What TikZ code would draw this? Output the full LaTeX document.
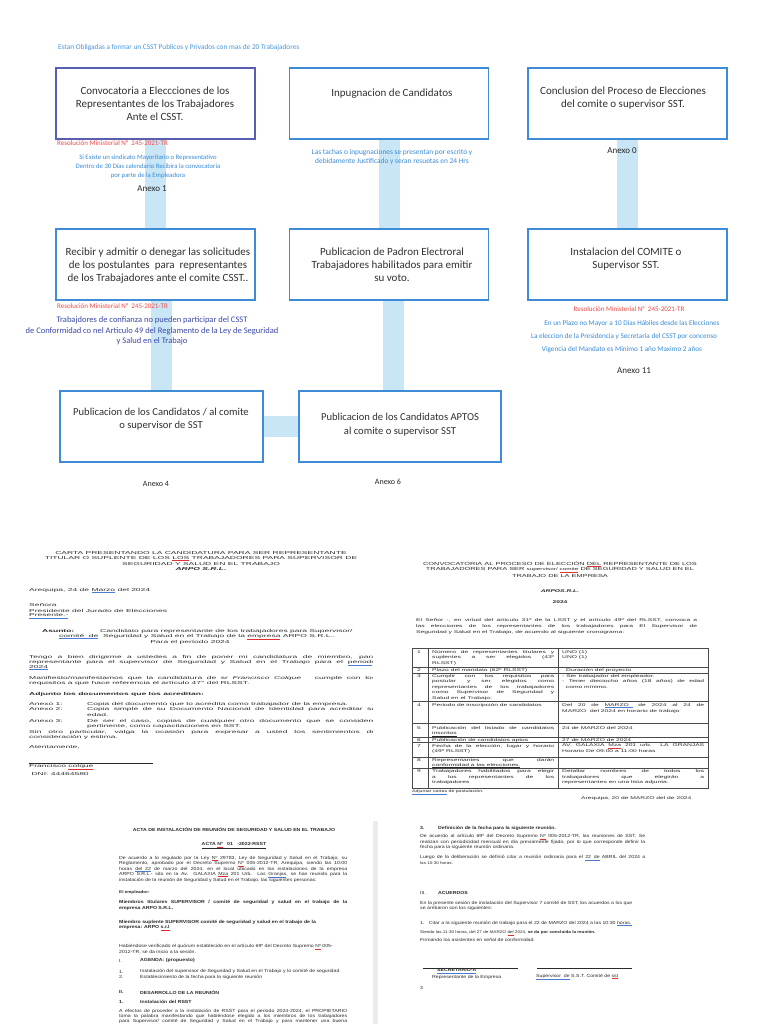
\documentclass[tikz,border=0pt]{standalone}
\usepackage{fontspec}
\usepackage{graphicx}
\setmainfont{Carlito}
\newfontfamily\docfont{Liberation Sans}
\definecolor{bandblue}{HTML}{C8E6F6}
\definecolor{boxblue}{HTML}{3E8CD6}
\definecolor{boxpurple}{HTML}{5A5EB0}
\definecolor{capblue}{HTML}{4A96D9}
\definecolor{noteblue}{HTML}{3A8BD5}
\definecolor{darkblue}{HTML}{3B48A6}
\definecolor{resred}{HTML}{F04A4A}
\definecolor{boxtext}{HTML}{303030}
\definecolor{doctext}{HTML}{2A2A2A}
\definecolor{ulblue}{HTML}{4A7BD0}
\definecolor{ulred}{HTML}{E03030}
\definecolor{tabline}{HTML}{4A4A4A}
\newcounter{dlc}
\newcommand{\docln}[5]{\stepcounter{dlc}\node[#1] (dl\arabic{dlc}) at (#3,#4) {\scalebox{1}[#2]{#5}};}
\newcommand{\jw}[2]{\makebox[#1pt][s]{#2}}
\newcommand{\ru}[1]{{\color{ulred}\underline{\color{doctext}#1}}}
\newcommand{\bu}[1]{{\color{ulblue}\underline{\color{doctext}#1}}}
\pgfdeclarelayer{paper}\pgfdeclarelayer{bands}\pgfsetlayers{paper,bands,main}
\begin{document}
\begin{tikzpicture}[x=1pt,y=-1pt,
  boxP/.style={draw=boxpurple, line width=1.4pt, fill=white, minimum width=199pt, minimum height=71pt, inner sep=0pt},
  boxB/.style={draw=boxblue, line width=1.2pt, fill=white, minimum width=199pt, minimum height=71pt, inner sep=0pt},
  btext/.style={anchor=north, align=center, inner sep=0pt, text=boxtext, font=\fontsize{11}{13}\selectfont},
  band/.style={draw=bandblue, line width=21pt},
  captxt/.style={anchor=west, inner sep=0pt, text=capblue, font=\fontsize{7.3}{8}\selectfont},
  resn/.style={inner sep=0pt, text=resred, font=\fontsize{7}{8}\selectfont},
  notetxt/.style={anchor=north, align=center, inner sep=0pt, text=noteblue, font=\fontsize{6.7}{8.7}\selectfont},
  notec/.style={inner sep=0pt, text=noteblue, font=\fontsize{7.2}{8}\selectfont},
  dnote/.style={anchor=north, align=center, inner sep=0pt, text=darkblue, font=\fontsize{8.5}{10.5}\selectfont},
  anx/.style={inner sep=0pt, text=black!85, font=\fontsize{9}{10}\selectfont},
  d1/.style={anchor=west, inner sep=0pt, text=doctext, font={\docfont\fontsize{8.5}{9}\selectfont}},
  d1c/.style={d1, anchor=center},
  d2/.style={anchor=west, inner sep=0pt, text=doctext, font={\docfont\fontsize{6.7}{7}\selectfont}},
  d2c/.style={d2, anchor=center},
  d2t/.style={anchor=center, inner sep=0pt, text=doctext, font={\docfont\fontsize{7.4}{8}\selectfont}},
  d3/.style={anchor=west, inner sep=0pt, text=doctext, font={\docfont\fontsize{5.2}{6}\selectfont}},
  d3c/.style={d3, anchor=center},
  d3s/.style={d3, font={\docfont\fontsize{4.6}{5}\selectfont}}
]
\begin{pgfonlayer}{paper}
\fill[white] (0,0) rectangle (768,1024);
\end{pgfonlayer}
\path[use as bounding box] (0,0) rectangle (768,1024);

% ---------------- flow diagram ----------------
\node[captxt] (cap) at (58,48) {Estan Obligadas a formar un CSST Publicos y Privados con mas de 20 Trabajadores};

\node[boxP] (b1) at (155.5,103.5) {};
\node[boxB] (b2) at (389,103.5) {};
\node[boxB] (b3) at (627.5,103.5) {};
\node[boxB] (b4) at (155.5,264.5) {};
\node[boxB] (b5) at (389,264.5) {};
\node[boxB] (b6) at (627.5,264.5) {};
\node[boxB, minimum width=203pt] (b7) at (161.5,426.5) {};
\node[boxB, minimum width=202pt] (b8) at (400,426.5) {};

\begin{pgfonlayer}{bands}
\draw[band] (b1) -- (b4);
\draw[band] (b2) -- (b5);
\draw[band] (b3) -- (b6);
\draw[band] (b7.north |- b4.south) -- (b7.north);
\draw[band] ([xshift=4pt]b5.south) -- ([xshift=4pt]b5.south |- b8.north);
\draw[band] (b7) -- (b8);
\end{pgfonlayer}

\node[btext] (t1) at (155,87) {Convocatoria a Eleccciones de los\\Representantes de los Trabajadores\\Ante el CSST.};
\node[btext] (t2) at (392,89) {Inpugnacion de Candidatos};
\node[btext] (t3) at (623,87) {Conclusion del Proceso de Elecciones\\del comite o supervisor SST.};
\node[btext] (t4) at (158,248) {Recibir y admitir o denegar las solicitudes\\de los postulantes\ \ para\ \ representantes\\de los Trabajadores ante el comite CSST..};
\node[btext] (t5) at (392,248) {Publicacion de Padron Electroral\\Trabajadores habilitados para emitir\\su voto.};
\node[btext] (t6) at (626,248) {Instalacion del COMITE o\\Supervisor SST.};
\node[btext, font=\fontsize{10.6}{13}\selectfont] (t7) at (161,408) {Publicacion de los Candidatos / al comite\\o supervisor de SST};
\node[btext, font=\fontsize{10.6}{14}\selectfont] (t8) at (400,413) {Publicacion de los Candidatos APTOS\\al comite o supervisor SST};

\node[resn, anchor=west] (r1) at (57,143) {Resolución Ministerial N°\ \ 245-2021-TR};
\node[notetxt] (n1) at (148,155) {Si Existe un sindicato Mayoritario o Representativo\\Dentro de 30 Días calendario Recibira la convocatoria\\por parte de la Empleadora};
\node[anx] (a1) at (152,189) {Anexo 1};

\node[notetxt, font=\fontsize{7.4}{9}\selectfont] (n2) at (392,149.5) {Las tachas o inpugnaciones se presentan por escrito y\\debidamente Justificado y seran resuetas en 24 Hrs};
\node[anx] (a0) at (622,151) {Anexo 0};

\node[resn, anchor=west] (r2) at (57,306) {Resolución Ministerial N°\ \ 245-2021-TR};
\node[dnote] (n4) at (152,316.5) {Trabajdores de confianza no pueden participar del CSST\\de Conformidad co nel Articulo 49 del Reglamento de la Ley de Seguridad\\y Salud en el Trabajo};

\node[resn] (r3) at (629,309) {Resolución Ministerial N°\ \ 245-2021-TR};
\node[notec] (n6a) at (632,324) {En un Plazo no Mayor a 10 Días Hábiles desde las Elecciones};
\node[notec] (n6b) at (624,336.5) {La eleccion de la Presidencia y Secretaria del CSST por concenso};
\node[notec] (n6c) at (622,349.5) {Vigencia del Mandato es Mínimo 1 año Maximo 2 años};
\node[anx] (a11) at (634,371) {Anexo 11};

\node[anx, font=\fontsize{8}{9}\selectfont] (a4) at (156,484) {Anexo 4};
\node[anx, font=\fontsize{8}{9}\selectfont] (a6) at (388,482) {Anexo 6};

% ---------------- document 1 (carta) ----------------
\begin{scope}
\clip (0,540) rectangle (372,800);
\docln{d1c}{.5}{201}{553}{CARTA PRESENTANDO LA CANDIDATURA PARA SER REPRESENTANTE}
\docln{d1c}{.5}{201}{558.5}{TITULAR O SUPLENTE DE LOS \ru{LOS} TRABAJADORES PARA SUPERVISOR DE}
\docln{d1c}{.5}{201}{564}{SEGURIDAD Y SALUD EN EL TRABAJO}
\docln{d1c}{.5}{201}{569.5}{\textbf{\textit{ARPO S.R.L.}}}
\docln{d1}{.5}{29}{590.5}{Arequipa, 24 de \bu{Marzo} del 2024}
\docln{d1}{.5}{29}{605}{Señora}
\docln{d1}{.5}{29}{610.5}{Presidente del Jurado de Elecciones}
\docln{d1}{.5}{29}{616}{\bu{Presente.-}}
\docln{d1}{.5}{42}{631}{\textbf{Asunto:}}
\docln{d1}{.5}{100}{631}{Candidato para representante de los trabajadores para Supervisor/}
\docln{d1}{.5}{59}{636.5}{\bu{comité\ \ de}\ \ Seguridad y Salud en el Trabajo de la \ru{empresa} ARPO S.R.L..}
\docln{d1c}{.5}{190}{642}{Para el período 2024}
\docln{d1}{.5}{29}{657}{\jw{347}{Tengo a bien dirigirme a ustedes a fin de poner mi candidatura de miembro, para}}
\docln{d1}{.5}{29}{662.5}{\jw{347}{representante para el supervisor de Seguridad y Salud en el Trabajo para el \bu{periodo}}}
\docln{d1}{.5}{29}{667.5}{\bu{2024}}
\docln{d1}{.5}{29}{678}{\jw{347}{Manifiesto/manifestamos que la candidatura de sr \textit{Francisco Colque}\ \ \ cumple con los}}
\docln{d1}{.5}{29}{683.5}{requisitos a que hace referencia el artículo 47° del RLSST.}
\docln{d1}{.5}{29}{694}{\textbf{Adjunto los documentos que los acreditan:}}
\docln{d1}{.5}{29}{704}{Anexo 1:}
\docln{d1}{.5}{87}{704}{Copia del documento que lo acredita como trabajador de la empresa.}
\docln{d1}{.5}{29}{709.5}{Anexo 2:}
\docln{d1}{.5}{87}{709.5}{\jw{289}{Copia simple de su Documento Nacional de Identidad para acreditar su}}
\docln{d1}{.5}{87}{714.5}{edad.}
\docln{d1}{.5}{29}{721}{Anexo 3:}
\docln{d1}{.5}{87}{721}{\jw{289}{De ser el caso, copias de cualquier otro documento que se considere}}
\docln{d1}{.5}{87}{726}{pertinente, como capacitaciones en SST.}
\docln{d1}{.5}{29}{732.5}{\jw{347}{Sin otro particular, valga la ocasión para expresar a usted los sentimientos de}}
\docln{d1}{.5}{29}{737.5}{consideración y estima.}
\docln{d1}{.5}{29}{747}{Atentamente,}
\coordinate (sig1a) at (29,763);
\coordinate (sig1b) at (153,763);
\draw[doctext, line width=0.5pt] (sig1a) -- (sig1b);
\docln{d1}{.5}{29}{767}{Francisco \ru{colque}}
\docln{d1}{.5}{29}{774}{\ DNI: 44464580}
\end{scope}

% ---------------- document 2 (convocatoria) ----------------
\docln{d2t}{.6}{560}{564}{CONVOCATORIA AL PROCESO DE ELECCIÓN \ru{DEL} REPRESENTANTE DE LOS}
\docln{d2t}{.6}{560}{570}{TRABAJADORES PARA SER {\fontsize{6.4}{7}\selectfont supervisor/ \ru{comite}} DE SEGURIDAD Y SALUD EN EL}
\docln{d2t}{.6}{560}{576}{TRABAJO DE LA EMPRESA}
\docln{d2c}{.6}{560}{591}{\textbf{\textit{ARPOS.R.L.}}}
\docln{d2c}{.6}{560}{602}{\textbf{2024}}
\docln{d2}{.6}{416}{620}{\jw{281}{El Señor -, en virtud del artículo 31º de la LSST y el artículo 49º del RLSST, convoca a}}
\docln{d2}{.6}{416}{626}{\jw{281}{las elecciones de los representantes de los trabajadores para El Supervisor de}}
\docln{d2}{.6}{416}{632}{Seguridad y Salud en el Trabajo, de acuerdo al siguiente cronograma:}

\draw[tabline, line width=0.6pt] (412,648) rectangle (708,788.5);
\foreach \yy in {667,673,701.5,723,737,742.5,757,768}
  \draw[tabline, line width=0.6pt] (412,\yy) -- (708,\yy);
\draw[tabline, line width=0.6pt] (428,648) -- (428,788.5);
\draw[tabline, line width=0.6pt] (558,648) -- (558,788.5);

\docln{d2}{.6}{417}{652}{1}
\docln{d2}{.6}{432}{652}{\jw{122}{Número de representantes titulares y}}
\docln{d2}{.6}{432}{657.5}{\jw{122}{suplentes a ser elegidos (43º}}
\docln{d2}{.6}{432}{663}{RLSST)}
\docln{d2}{.6}{562}{652}{UNO (1)}
\docln{d2}{.6}{562}{657.5}{UNO (1)}
\docln{d2}{.6}{417}{670}{2}
\docln{d2}{.6}{432}{670}{Plazo del mandato (62º RLSST)}
\docln{d2}{.6}{566}{670}{Duración del proyecto}
\docln{d2}{.6}{417}{676}{3}
\docln{d2}{.6}{432}{676}{\jw{122}{Cumplir con los requisitos para}}
\docln{d2}{.6}{432}{681.5}{\jw{122}{postular y ser elegidos como}}
\docln{d2}{.6}{432}{687}{\jw{122}{representantes de los trabajadores}}
\docln{d2}{.6}{432}{692.5}{\jw{122}{como Supervisor de Seguridad y}}
\docln{d2}{.6}{432}{698}{Salud en el Trabajo:}
\docln{d2}{.6}{562}{676}{- Ser trabajador del empleador.}
\docln{d2}{.6}{562}{681.5}{\jw{142}{- Tener dieciocho años (18 años) de edad}}
\docln{d2}{.6}{562}{687}{\ \ como mínimo.}
\docln{d2}{.6}{417}{705.5}{4}
\docln{d2}{.6}{432}{705.5}{Periodo de inscripción de candidatos}
\docln{d2}{.6}{562}{705.5}{\jw{142}{Del 20 de \bu{MARZO\ \ }\ de 2024 al 24 de}}
\docln{d2}{.6}{562}{711}{MARZO\ \ del 2024 en horario de trabajo}
\docln{d2}{.6}{417}{728.5}{5}
\docln{d2}{.6}{432}{728.5}{\jw{122}{Publicación del listado de candidatos}}
\docln{d2}{.6}{432}{734}{\underline{inscritos}}
\docln{d2}{.6}{562}{728.5}{24 de MARZO del 2024}
\docln{d2}{.6}{417}{740}{6}
\docln{d2}{.6}{432}{740}{Publicación de candidatos aptos}
\docln{d2}{.6}{562}{740}{27 de MARZO de 2024}
\docln{d2}{.6}{417}{746}{7}
\docln{d2}{.6}{432}{746}{\jw{122}{Fecha de la elección, lugar y horario}}
\docln{d2}{.6}{432}{751.5}{(49º RLSST)}
\docln{d2}{.6}{562}{746}{\jw{142}{AV. GALAXIA \ru{Mza} 201 urb. LA GRANJAS}}
\docln{d2}{.6}{562}{751.5}{Horario De 09:00 a 11:00 horas}
\docln{d2}{.6}{417}{760}{8}
\docln{d2}{.6}{432}{760}{\jw{122}{Representantes que darán}}
\docln{d2}{.6}{432}{765.5}{\underline{conformidad a las elecciones.}}
\docln{d2}{.6}{417}{771.5}{9}
\docln{d2}{.6}{432}{771.5}{\jw{122}{Trabajadores habilitados para elegir}}
\docln{d2}{.6}{432}{777}{\jw{122}{a los representantes de los}}
\docln{d2}{.6}{432}{782.5}{trabajadores}
\docln{d2}{.6}{562}{771.5}{\jw{142}{Detallar nombres de todos los}}
\docln{d2}{.6}{562}{777}{\jw{142}{trabajadores que elegirán a}}
\docln{d2}{.6}{562}{782.5}{representantes en una lista adjunta.}
\docln{d3}{.7}{412}{792.5}{\bu{Adjuntar cartas} de postulación.}
\docln{d2}{.6}{581}{798.5}{Arequipa, 20 de MARZO del de 2024}

% ---------------- document 3 (acta) ----------------
\fill[black!8] (373,821) rectangle (378,1024);
\docln{d3c}{.85}{234}{830}{\textbf{ACTA DE INSTALACIÓN DE REUNIÓN DE SEGURIDAD Y SALUD EN EL TRABAJO}}
\docln{d3c}{.85}{234}{845.7}{\textbf{\underline{ACTA \ru{Nº}\ \ \ 01\ \ \ -2022-RSST}}}
\docln{d3}{.85}{119}{858.3}{\jw{228}{De acuerdo a lo regulado por la Ley \ru{Nº} 29783, Ley de Seguridad y Salud en el Trabajo, su}}
\docln{d3}{.85}{119}{864}{\jw{228}{Reglamento, aprobado por el Decreto Supremo \ru{Nº} 005-2012-TR, Arequipa, siendo las 10:00}}
\docln{d3}{.85}{119}{869.3}{\jw{228}{horas \bu{del\ \ 22} de marzo del 2024, en el local ubicado en las instalaciones de la empresa}}
\docln{d3}{.85}{119}{875}{\jw{228}{ARPO S.R.L.- sito en la Av. GALAXIA \ru{Mza} 201 Urb. Las \bu{Granjas}, se han reunido para la}}
\docln{d3}{.85}{119}{880.7}{instalación de la reunión de Seguridad y Salud en el Trabajo, las siguientes personas:}
\docln{d3s}{.85}{119}{892.7}{\textbf{El empleador:}}
\docln{d3}{.85}{119}{902.3}{\textbf{\jw{228}{Miembros titulares SUPERVISOR / comité de seguridad y salud en el trabajo de la}}}
\docln{d3}{.85}{119}{908}{\textbf{empresa ARPO S.R.L.}}
\docln{d3}{.85}{119}{922.3}{\textbf{Miembro suplente SUPERVISOR comité de seguridad y salud en el trabajo de la}}
\docln{d3}{.85}{119}{927.7}{\textbf{empresa: ARPO \ru{s.r.l}}}
\docln{d3}{.85}{119}{946.7}{Habiéndose verificado el quórum establecido en el artículo 69º del Decreto Supremo \ru{Nº} 005-}
\docln{d3}{.85}{119}{952}{2012-TR, se da inicio a la sesión.}
\docln{d3}{.85}{119}{960.7}{I.}
\docln{d3}{.85}{140}{960.7}{\textbf{AGENDA: (propuesto)}}
\docln{d3}{.85}{119}{971.7}{1.}
\docln{d3}{.85}{140}{971.7}{Instalación del supervisor de Seguridad y Salud en el Trabajo y lo comité de seguridad}
\docln{d3}{.85}{119}{977}{2.}
\docln{d3}{.85}{140}{977}{Establecimiento de la fecha para la siguiente reunión}
\docln{d3}{.85}{119}{992.3}{\textbf{II.}}
\docln{d3}{.85}{140}{992.3}{\textbf{DESARROLLO DE LA REUNIÓN}}
\docln{d3}{.85}{119}{1002.3}{\textbf{1.}}
\docln{d3}{.85}{140}{1002.3}{\textbf{Instalación del RSST}}
\docln{d3}{.85}{119}{1011}{\jw{228}{A efectos de proceder a la instalación de RSST para el periodo 2024-2024, el PROPIETARIO}}
\docln{d3}{.85}{119}{1016.3}{\jw{228}{toma la palabra manifestando que habiéndose elegido a los miembros de los trabajadores}}
\docln{d3}{.85}{119}{1021.7}{\jw{228}{para Supervisor/ \bu{comité\ \ de} Seguridad y Salud en el Trabajo y para mantener una buena}}

% ---------------- document 4 (acta, cont.) ----------------
\docln{d3}{.85}{420}{828.3}{\textbf{3.}}
\docln{d3}{.85}{438}{828.3}{\textbf{Definición de la fecha para la siguiente reunión.}}
\docln{d3}{.85}{420}{836.7}{\jw{225}{De acuerdo al artículo 69º del Decreto Supremo \ru{Nº} 005-2012-TR, las reuniones de SST. Se}}
\docln{d3}{.85}{420}{842}{\jw{225}{realizan con periodicidad mensual en día previamente fijado, por lo que corresponde definir la}}
\docln{d3}{.85}{420}{847.3}{fecha para la siguiente reunión ordinaria.}
\docln{d3}{.85}{420}{857.7}{\jw{225}{Luego de la deliberación se definió citar a reunión ordinaria para el \bu{22\ \ de} ABRIL del 2024 a}}
\docln{d3s}{.85}{420}{862.7}{las 10:30 horas.}
\docln{d3}{.85}{420}{893.3}{III.}
\docln{d3}{.85}{438}{893.3}{\textbf{ACUERDOS}}
\docln{d3}{.85}{420}{903.3}{En la presente sesión de instalación del Supervisor 7 comité de SST, los acuerdos a los que}
\docln{d3}{.85}{420}{908.7}{se arribaron son los siguientes:}
\docln{d3}{.85}{420}{923.3}{1.\ \ \ Citar a la siguiente reunión de trabajo para el 22 de MARZO del 2024 a las 10:30 \bu{horas.}}
\docln{d3s}{.85}{420}{933.3}{Siendo las 11:30 horas, del 27 de MARZO \ru{del} 2024, \textbf{se da por concluida la reunión.}}
\docln{d3}{.85}{420}{939.7}{Firmando los asistentes en señal de conformidad.}
\coordinate (sig2a) at (423,968.3);
\coordinate (sig2b) at (518,968.3);
\coordinate (sig3a) at (537,968.3);
\coordinate (sig3b) at (632,968.3);
\draw[doctext, line width=0.4pt] (sig2a) -- (sig2b);
\draw[doctext, line width=0.4pt] (sig3a) -- (sig3b);
\docln{d3}{.85}{437}{971.3}{\bu{\textbf{SECRETARIO-A}}}
\docln{d3}{.85}{432}{977}{Representante de la Empresa}
\docln{d3}{.85}{536}{977}{\bu{Supervisor\ \ de} S.S.T. Comité de \ru{sst}}
\docln{d3}{.85}{420}{987.7}{3}
\end{tikzpicture}
\end{document}
